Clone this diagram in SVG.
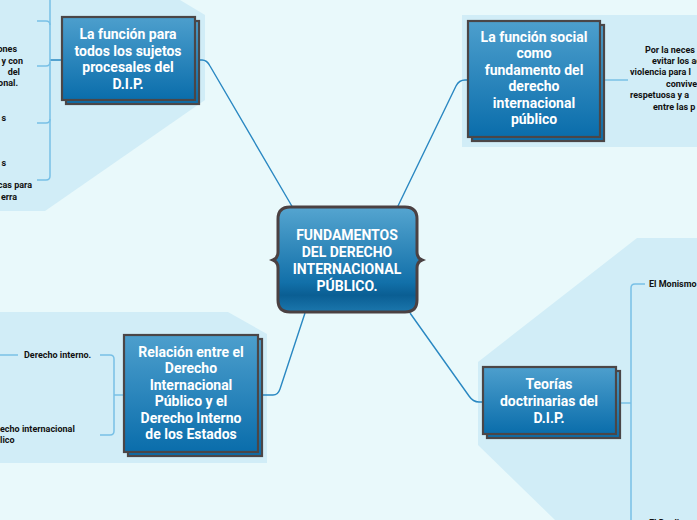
<svg xmlns="http://www.w3.org/2000/svg" width="697" height="520" viewBox="0 0 697 520">
<defs>
<linearGradient id="gNode" x1="0" y1="0" x2="0" y2="1">
<stop offset="0" stop-color="#4d9fcd"/>
<stop offset="1" stop-color="#0a6dab"/>
</linearGradient>
<linearGradient id="gCenter" x1="0" y1="0" x2="0" y2="1">
<stop offset="0" stop-color="#55a5d0"/>
<stop offset="0.72" stop-color="#1270a9"/>
<stop offset="0.84" stop-color="#0a5e93"/>
<stop offset="1" stop-color="#1b77ad"/>
</linearGradient>
<style>
.zone{fill:#d1edf7}
.box{fill:url(#gNode);stroke:#4b4647;stroke-width:2.2}
.ntxt{font-family:Roboto,"Liberation Sans",sans-serif;font-weight:bold;font-size:14px;fill:#ffffff;text-anchor:middle}
.ctxt{font-family:Roboto,"Liberation Sans",sans-serif;font-weight:bold;font-size:14px;fill:#ffffff;text-anchor:middle}
.main{fill:none;stroke:#2a88c2;stroke-width:1.4}
.br{fill:none;stroke:#78c0e6;stroke-width:1.5}
.dk{fill:none;stroke:#2a88c2;stroke-width:1.5}
.lab{font-family:Roboto,"Liberation Sans",sans-serif;font-weight:bold;font-size:9px;fill:#111111}
</style>
</defs>
<rect width="697" height="520" fill="#e9f9fb"/>
<g id="zones">
<polygon class="zone" points="0,0 180,0 205,15 205,100 45,211 0,211"/>
<rect class="zone" x="462" y="15" width="235" height="132"/>
<polygon class="zone" points="0,312 228,312 267,334 267,463 0,463"/>
<polygon class="zone" points="637,238 697,238 697,520 555,520 478,445 478,362"/>
</g>
<g id="connectors">
<path class="main" d="M195,60 H202 Q207,60 210,66 L293,208"/>
<path class="main" d="M397,208 L456,86 Q459,80 465,80 H468"/>
<path class="main" d="M258,395 H273 Q278,395 280,389 L305,313"/>
<path class="main" d="M410,313 L469,396 Q473,402 479,402 H483"/>
<path class="dk" d="M50,60 H62"/>
<path class="br" d="M50,0 V176 Q50,180 46,180 H37"/>
<path class="br" d="M37,21 H46 Q50,21 50,25"/>
<path class="br" d="M37,66 H46 Q50,66 50,62"/>
<path class="br" d="M37,123 H46 Q50,123 50,119"/>
<path class="br" d="M600,80 H628"/>
<path class="br" d="M124,395 H114"/>
<path class="br" d="M100,355 H110 Q114,355 114,359 V431 Q114,435 110,435 H100"/>
<path class="br" d="M0,355 H18"/>
<path class="br" d="M617,403 H631"/>
<path class="br" d="M645,284 H635 Q631,284 631,288 V520"/>
</g>
<g id="center">
<path d="M290,207 H405 Q417,207 417,219 V252 Q417,258 422,260 Q417,262 417,268 V300 Q417,312 405,312 H290 Q278,312 278,300 V268 Q278,262 273,260 Q278,258 278,252 V219 Q278,207 290,207 Z" fill="url(#gCenter)" stroke="#4b4142" stroke-width="3"/>
<text class="ctxt"><tspan x="347" y="240">FUNDAMENTOS</tspan><tspan x="347" y="257">DEL DERECHO</tspan><tspan x="347" y="274">INTERNACIONAL</tspan><tspan x="347" y="291">PÚBLICO.</tspan></text>
</g>
<g id="node1">
<rect class="box" x="66" y="21" width="133" height="83"/>
<rect class="box" x="62" y="17" width="133" height="83"/>
<text class="ntxt"><tspan x="128" y="39">La función para</tspan><tspan x="128" y="56">todos los sujetos</tspan><tspan x="128" y="72">procesales del</tspan><tspan x="128" y="89">D.I.P.</tspan></text>
</g>
<g id="node1-children">
<text class="lab" text-anchor="end"><tspan x="17" y="52">ones</tspan><tspan x="23" y="64">y con</tspan><tspan x="20" y="75">del</tspan><tspan x="18" y="86">onal.</tspan></text>
<text class="lab" text-anchor="end" x="6" y="121">s</text>
<text class="lab" text-anchor="end" x="6" y="166">s</text>
<text class="lab" text-anchor="end"><tspan x="32" y="188">cas para</tspan><tspan x="17" y="200">erra</tspan></text>
</g>
<g id="node2">
<rect class="box" x="472" y="25" width="132" height="116"/>
<rect class="box" x="468" y="21" width="132" height="116"/>
<text class="ntxt"><tspan x="534" y="42">La función social</tspan><tspan x="534" y="58">como</tspan><tspan x="534" y="75">fundamento del</tspan><tspan x="534" y="91">derecho</tspan><tspan x="534" y="108">internacional</tspan><tspan x="534" y="124">público</tspan></text>
</g>
<g id="node2-child">
<text class="lab"><tspan x="645" y="53">Por la neces</tspan><tspan x="652" y="64">evitar los ac</tspan><tspan x="630" y="75">violencia para l</tspan><tspan x="666" y="87">conviven</tspan><tspan x="630" y="98">respetuosa y a</tspan><tspan x="653" y="110">entre las p</tspan></text>
</g>
<g id="node3">
<rect class="box" x="128" y="339" width="134" height="117"/>
<rect class="box" x="124" y="335" width="134" height="117"/>
<text class="ntxt"><tspan x="191" y="357">Relación entre el</tspan><tspan x="191" y="373">Derecho</tspan><tspan x="191" y="390">Internacional</tspan><tspan x="191" y="406">Público y el</tspan><tspan x="191" y="423">Derecho Interno</tspan><tspan x="191" y="439">de los Estados</tspan></text>
</g>
<g id="node3-children">
<text class="lab" x="24" y="358">Derecho interno.</text>
<text class="lab"><tspan x="0" y="432">echo internacional</tspan><tspan x="0" y="443">lico</tspan></text>
</g>
<g id="node4">
<rect class="box" x="487" y="371" width="133" height="67"/>
<rect class="box" x="483" y="367" width="133" height="67"/>
<text class="ntxt"><tspan x="549" y="389">Teorías</tspan><tspan x="549" y="406">doctrinarias del</tspan><tspan x="549" y="423">D.I.P.</tspan></text>
</g>
<g id="node4-children">
<text class="lab" x="649" y="287">El Monismo</text>
<text class="lab" x="649" y="526">El Dualismo</text>
</g>
</svg>
